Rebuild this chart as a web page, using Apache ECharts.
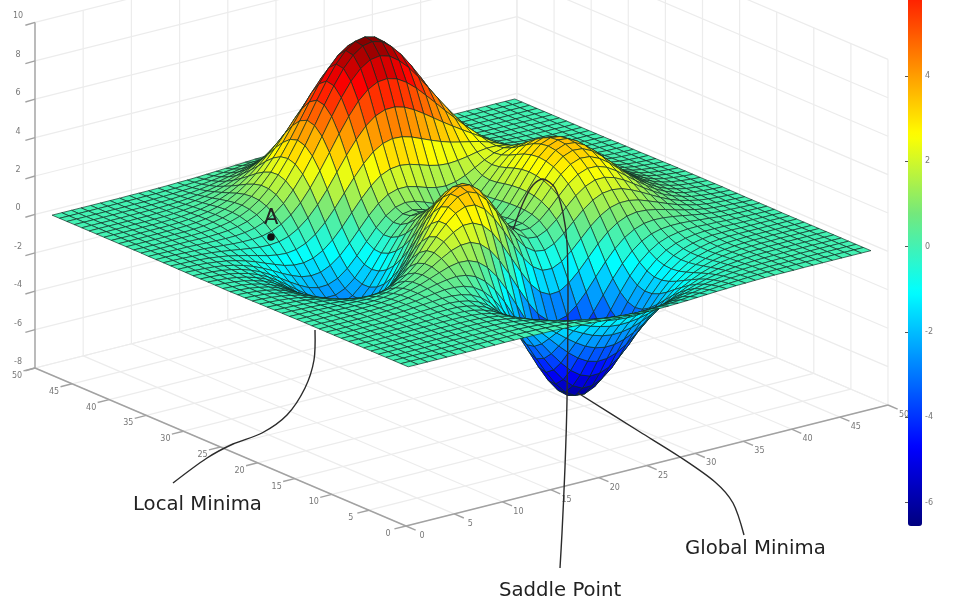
<!DOCTYPE html>
<html>
<head>
<meta charset="utf-8">
<style>
  html, body { margin: 0; background: #fff; }
  #chart { width: 960px; height: 600px; }
</style>
<script src="https://cdn.jsdelivr.net/npm/echarts@6/dist/echarts.min.js"></script>
</head>
<body>
<div id="chart"></div>
<script>
// surface heights estimated for each of the 49 x 49 mesh points, row = y index, column = x index
const zRows = [
  [0,0,0,0,0,0,0,0,0,0, .01,.01,0,0,-.01,-.01,-.03,-.05,-.08,-.11, -.14,-.17,-.2,-.23,-.25,-.25,-.25,-.24,-.22,-.2, -.17,-.14,-.11,-.09,-.06,-.05,-.03,-.02,-.01,-.01, -.01,0,0,0,0,0,0,0,0],
  [0,0,0,0,0,0,.01,.01,.01,.01, .01,.01,.01,0,-.01,-.03,-.06,-.09,-.13,-.19, -.24,-.3,-.35,-.39,-.42,-.44,-.43,-.41,-.38,-.34, -.29,-.24,-.19,-.14,-.11,-.08,-.05,-.03,-.02,-.01, -.01,0,0,0,0,0,0,0,0],
  [0,0,0,0,0,0,0,.01,.01,.01, .01,.01,0,0,-.02,-.05,-.1,-.15,-.22,-.3, -.39,-.48,-.56,-.63,-.68,-.7,-.69,-.66,-.61,-.54, -.46,-.38,-.3,-.23,-.17,-.12,-.09,-.06,-.04,-.02, -.02,-.01,-.01,0,0,0,0,0,0],
  [0,0,0,0,0,.01,.01,.01,.01,.01, .01,.01,0,-.01,-.04,-.09,-.15,-.24,-.35,-.48, -.61,-.75,-.87,-.98,-1.05,-1.09,-1.08,-1.03,-.94,-.84, -.71,-.58,-.46,-.35,-.26,-.18,-.12,-.08,-.05,-.03, -.02,-.01,-.01,0,0,0,0,0,0],
  [0,0,0,0,0,0,.01,.01,.01,.02, .02,.02,0,-.02,-.07,-.14,-.23,-.37,-.53,-.71, -.91,-1.12,-1.31,-1.46,-1.57,-1.62,-1.6,-1.53,-1.41,-1.24, -1.06,-.87,-.69,-.52,-.38,-.27,-.18,-.12,-.08,-.05, -.03,-.02,-.01,0,0,0,0,0,0],
  [0,0,0,0,.01,.01,.01,.02,.02,.02, .03,.02,.01,-.03,-.1,-.19,-.33,-.52,-.74,-1.01, -1.3,-1.59,-1.85,-2.08,-2.23,-2.3,-2.28,-2.18,-2,-1.77, -1.51,-1.24,-.98,-.74,-.54,-.38,-.26,-.17,-.11,-.06, -.03,-.02,-.01,-.01,0,0,0,0,0],
  [0,0,0,0,.01,.01,.02,.02,.03,.03, .03,.03,.01,-.04,-.12,-.25,-.44,-.69,-1,-1.35, -1.74,-2.14,-2.5,-2.81,-3.02,-3.12,-3.1,-2.96,-2.72,-2.41, -2.05,-1.68,-1.32,-1.01,-.74,-.52,-.35,-.22,-.14,-.08, -.04,-.03,-.01,-.01,0,0,0,0,0],
  [0,0,0,0,.01,.01,.02,.03,.04,.05, .05,.05,.02,-.03,-.14,-.29,-.53,-.84,-1.23,-1.7, -2.2,-2.71,-3.19,-3.59,-3.88,-4.02,-3.99,-3.82,-3.51,-3.1, -2.64,-2.16,-1.71,-1.29,-.94,-.66,-.44,-.28,-.17,-.1, -.05,-.03,-.01,-.01,0,0,0,0,0],
  [0,0,0,.01,.01,.01,.02,.03,.05,.06, .07,.07,.05,-.01,-.13,-.32,-.59,-.97,-1.44,-2.02, -2.64,-3.28,-3.88,-4.4,-4.76,-4.95,-4.93,-4.72,-4.35,-3.85, -3.27,-2.68,-2.1,-1.59,-1.15,-.8,-.53,-.34,-.2,-.12, -.06,-.03,-.01,-.01,0,0,0,0,0],
  [0,0,0,.01,.01,.01,.03,.04,.06,.08, .1,.11,.1,.04,-.08,-.27,-.57,-1,-1.54,-2.2, -2.93,-3.69,-4.41,-5.04,-5.49,-5.74,-5.73,-5.51,-5.09,-4.5, -3.83,-3.12,-2.45,-1.84,-1.32,-.91,-.59,-.37,-.22,-.12, -.06,-.03,-.01,0,0,0,0,0,0],
  [0,0,0,.01,.01,.01,.03,.05,.07,.1, .12,.15,.16,.12,.02,-.16,-.46,-.9,-1.48,-2.2, -3.01,-3.87,-4.7,-5.43,-5.98,-6.29,-6.33,-6.1,-5.64,-5, -4.24,-3.45,-2.69,-2,-1.42,-.96,-.61,-.37,-.21,-.1, -.04,-.01,0,0,0,0,0,0,0],
  [0,0,0,.01,.01,.01,.03,.05,.08,.12, .16,.2,.24,.24,.18,.04,-.22,-.63,-1.19,-1.92, -2.77,-3.69,-4.6,-5.42,-6.06,-6.45,-6.54,-6.35,-5.89,-5.22, -4.42,-3.58,-2.76,-2.03,-1.42,-.93,-.56,-.32,-.16,-.06, 0,.01,.02,.01,.01,.01,.01,0,0],
  [0,0,0,0,0,.01,.03,.05,.08,.13, .18,.26,.33,.39,.39,.33,.15,-.18,-.68,-1.36, -2.18,-3.12,-4.07,-4.96,-5.68,-6.15,-6.32,-6.18,-5.76,-5.11, -4.31,-3.46,-2.63,-1.89,-1.27,-.79,-.44,-.21,-.07,.01, .05,.05,.05,.03,.02,.02,.01,.01,0],
  [0,0,-.01,0,0,0,.01,.03,.06,.12, .19,.29,.41,.53,.62,.67,.61,.41,.04,-.53, -1.28,-2.17,-3.12,-4.05,-4.83,-5.39,-5.65,-5.6,-5.25,-4.65, -3.9,-3.09,-2.29,-1.57,-.98,-.54,-.22,-.03,.07,.12, .13,.1,.09,.06,.04,.03,.02,.01,.01],
  [0,-.01,-.01,-.01,-.02,-.02,-.01,0,.03,.08, .17,.29,.45,.64,.83,1.01,1.11,1.08,.88,.47, -.14,-.94,-1.85,-2.78,-3.61,-4.25,-4.6,-4.65,-4.41,-3.9, -3.22,-2.48,-1.74,-1.09,-.56,-.17,.08,.21,.26,.26, .23,.18,.14,.09,.06,.04,.03,.02,.01],
  [0,-.01,-.02,-.02,-.03,-.05,-.05,-.05,-.04,.01, .09,.23,.43,.68,.97,1.28,1.56,1.72,1.74,1.53, 1.09,.43,-.4,-1.3,-2.16,-2.87,-3.32,-3.48,-3.34,-2.93, -2.36,-1.7,-1.04,-.47,-.02,.28,.46,.52,.5,.44, .36,.27,.19,.13,.08,.06,.04,.02,.01],
  [-.01,-.02,-.02,-.04,-.06,-.08,-.1,-.12,-.13,-.11, -.04,.09,.31,.61,.98,1.42,1.86,2.22,2.46,2.46, 2.22,1.72,.99,.14,-.72,-1.48,-2.01,-2.27,-2.23,-1.91, -1.43,-.85,-.27,.22,.58,.8,.89,.86,.77,.64, .5,.37,.26,.17,.11,.07,.05,.02,.01],
  [-.01,-.02,-.04,-.06,-.09,-.13,-.17,-.22,-.26,-.27, -.24,-.14,.07,.39,.83,1.36,1.95,2.49,2.93,3.15, 3.11,2.77,2.15,1.37,.51,-.27,-.86,-1.18,-1.21,-.97, -.54,-.03,.49,.91,1.2,1.33,1.33,1.23,1.05,.86, .66,.48,.34,.22,.14,.09,.06,.03,.01],
  [-.01,-.03,-.05,-.08,-.12,-.18,-.25,-.34,-.42,-.49, -.51,-.45,-.28,.04,.49,1.09,1.79,2.48,3.09,3.49, 3.63,3.44,2.94,2.22,1.4,.61,0,-.35,-.42,-.2, .21,.7,1.18,1.56,1.79,1.85,1.78,1.59,1.35,1.08, .82,.59,.41,.28,.17,.11,.07,.04,.02],
  [-.02,-.04,-.07,-.1,-.16,-.24,-.34,-.47,-.61,-.73, -.82,-.83,-.72,-.44,0,.63,1.38,2.18,2.93,3.48, 3.76,3.7,3.31,2.66,1.88,1.11,.51,.16,.11,.34, .76,1.27,1.75,2.11,2.32,2.33,2.19,1.94,1.62,1.29, .98,.7,.49,.33,.2,.13,.08,.04,.02],
  [-.02,-.05,-.08,-.13,-.2,-.31,-.44,-.6,-.8,-.99, -1.16,-1.25,-1.21,-1,-.6,.02,.8,1.66,2.49,3.15, 3.55,3.61,3.3,2.73,2,1.27,.71,.4,.39,.67, 1.14,1.69,2.2,2.57,2.76,2.74,2.56,2.25,1.87,1.49, 1.13,.81,.56,.37,.23,.15,.09,.05,.03],
  [-.03,-.05,-.09,-.15,-.24,-.36,-.53,-.73,-.98,-1.24, -1.48,-1.66,-1.71,-1.58,-1.23,-.66,.12,1,1.89,2.63, 3.11,3.25,3.03,2.53,1.86,1.19,.68,.43,.48,.83, 1.37,1.97,2.53,2.93,3.12,3.08,2.86,2.51,2.08,1.65, 1.25,.9,.62,.41,.26,.16,.1,.05,.03],
  [-.03,-.06,-.1,-.17,-.27,-.41,-.6,-.84,-1.14,-1.46, -1.77,-2.03,-2.16,-2.11,-1.83,-1.31,-.57,.32,1.23,2.02, 2.56,2.77,2.62,2.19,1.59,.98,.53,.35,.47,.89, 1.5,2.16,2.76,3.18,3.37,3.33,3.09,2.7,2.24,1.78, 1.34,.96,.67,.44,.28,.17,.11,.06,.03],
  [-.03,-.06,-.11,-.18,-.29,-.45,-.66,-.92,-1.26,-1.63, -2,-2.32,-2.53,-2.55,-2.34,-1.88,-1.17,-.31,.61,1.41, 1.99,2.26,2.17,1.81,1.28,.74,.36,.24,.43,.9, 1.56,2.26,2.89,3.33,3.53,3.48,3.23,2.82,2.34,1.85, 1.4,1,.69,.46,.29,.18,.11,.06,.03],
  [-.04,-.07,-.11,-.19,-.3,-.47,-.69,-.97,-1.33,-1.73, -2.14,-2.51,-2.77,-2.86,-2.71,-2.31,-1.65,-.83,.07,.87, 1.48,1.78,1.75,1.45,.98,.51,.19,.14,.37,.89, 1.57,2.3,2.94,3.39,3.58,3.53,3.27,2.86,2.37,1.88, 1.41,1.02,.7,.47,.29,.18,.11,.06,.03],
  [-.04,-.07,-.11,-.19,-.31,-.47,-.69,-.98,-1.35,-1.76, -2.19,-2.59,-2.89,-3.02,-2.92,-2.58,-1.98,-1.21,-.35,.43, 1.03,1.36,1.37,1.12,.73,.32,.06,.05,.32,.85, 1.54,2.26,2.89,3.33,3.53,3.47,3.21,2.81,2.33,1.84, 1.39,1,.69,.46,.29,.18,.11,.06,.03],
  [-.03,-.06,-.11,-.18,-.3,-.45,-.67,-.96,-1.32,-1.72, -2.15,-2.56,-2.87,-3.03,-2.98,-2.68,-2.15,-1.44,-.64,.1, .68,1.01,1.05,.86,.53,.18,-.03,0,.28,.8, 1.47,2.16,2.77,3.18,3.36,3.31,3.06,2.68,2.22,1.75, 1.32,.95,.65,.44,.28,.17,.1,.06,.03],
  [-.03,-.06,-.1,-.17,-.28,-.43,-.63,-.9,-1.24,-1.62, -2.04,-2.42,-2.74,-2.9,-2.88,-2.63,-2.16,-1.52,-.79,-.1, .44,.77,.84,.69,.41,.13,-.04,0,.28,.76, 1.38,2.02,2.58,2.96,3.12,3.07,2.83,2.48,2.05,1.62, 1.22,.88,.6,.4,.25,.16,.1,.05,.03],
  [-.03,-.05,-.09,-.15,-.25,-.38,-.57,-.81,-1.12,-1.47, -1.85,-2.2,-2.49,-2.65,-2.64,-2.42,-2,-1.42,-.76,-.13, .39,.71,.79,.69,.47,.23,.09,.13,.38,.8, 1.34,1.9,2.38,2.7,2.84,2.78,2.56,2.23,1.84,1.46, 1.09,.79,.54,.36,.23,.14,.09,.05,.02],
  [-.03,-.05,-.08,-.13,-.22,-.33,-.5,-.71,-.98,-1.28, -1.61,-1.91,-2.16,-2.29,-2.26,-2.06,-1.67,-1.13,-.52,.08, .57,.89,1.01,.95,.78,.58,.46,.47,.65,.99, 1.41,1.85,2.23,2.47,2.55,2.48,2.27,1.97,1.62,1.28, .96,.69,.47,.31,.2,.12,.07,.04,.02],
  [-.02,-.04,-.07,-.11,-.18,-.28,-.42,-.59,-.81,-1.06, -1.33,-1.57,-1.76,-1.84,-1.78,-1.55,-1.17,-.64,-.05,.54, 1.04,1.39,1.55,1.55,1.42,1.25,1.12,1.08,1.17,1.37, 1.65,1.93,2.17,2.31,2.32,2.21,1.99,1.71,1.4,1.1, .82,.59,.4,.27,.17,.1,.06,.03,.02],
  [-.02,-.03,-.05,-.09,-.15,-.22,-.33,-.47,-.64,-.84, -1.03,-1.21,-1.32,-1.33,-1.21,-.94,-.52,.03,.65,1.26, 1.8,2.21,2.43,2.49,2.42,2.27,2.11,1.99,1.95,1.99, 2.07,2.18,2.25,2.25,2.16,1.99,1.76,1.49,1.2,.93, .69,.49,.34,.22,.14,.09,.05,.03,.01],
  [-.01,-.03,-.04,-.07,-.11,-.17,-.25,-.36,-.48,-.61, -.74,-.83,-.87,-.8,-.6,-.26,.23,.83,1.51,2.18, 2.79,3.28,3.59,3.72,3.69,3.55,3.34,3.13,2.94,2.78, 2.66,2.55,2.44,2.28,2.09,1.85,1.58,1.3,1.04,.79, .58,.41,.28,.18,.11,.07,.04,.02,.01],
  [-.01,-.02,-.03,-.06,-.08,-.12,-.18,-.25,-.33,-.4, -.46,-.48,-.43,-.28,.01,.43,.99,1.67,2.43,3.19, 3.88,4.46,4.86,5.06,5.08,4.94,4.68,4.36,4.01,3.66, 3.33,3.01,2.7,2.39,2.07,1.76,1.45,1.16,.9,.67, .48,.34,.23,.15,.09,.06,.03,.02,.01],
  [-.01,-.01,-.02,-.04,-.06,-.08,-.12,-.16,-.2,-.22, -.22,-.18,-.05,.19,.55,1.05,1.7,2.46,3.29,4.14, 4.92,5.59,6.07,6.34,6.39,6.25,5.94,5.52,5.02,4.5, 3.97,3.46,2.97,2.51,2.09,1.7,1.35,1.05,.79,.58, .41,.28,.18,.12,.07,.04,.03,.01,.01],
  [-.01,-.01,-.02,-.03,-.03,-.05,-.07,-.08,-.09,-.08, -.03,.07,.26,.56,.98,1.55,2.25,3.07,3.97,4.88, 5.73,6.46,7,7.33,7.41,7.27,6.91,6.42,5.81,5.14, 4.46,3.8,3.18,2.6,2.1,1.65,1.27,.95,.7,.5, .34,.23,.15,.1,.06,.03,.02,.01,0],
  [0,-.01,-.01,-.01,-.02,-.02,-.03,-.03,-.01,.03, .11,.25,.48,.81,1.28,1.87,2.61,3.45,4.37,5.31, 6.19,6.96,7.53,7.89,7.99,7.85,7.47,6.93,6.25,5.5, 4.72,3.96,3.25,2.61,2.06,1.58,1.18,.87,.62,.44, .29,.19,.12,.08,.05,.03,.02,.01,0],
  [0,-.01,-.01,-.01,-.01,0,-.01,.01,.04,.1, .2,.36,.6,.95,1.42,2.02,2.74,3.57,4.48,5.4, 6.27,7.03,7.61,7.97,8.07,7.94,7.56,7.01,6.31,5.53, 4.72,3.92,3.18,2.52,1.95,1.47,1.08,.78,.55,.37, .24,.16,.1,.06,.04,.02,.01,.01,0],
  [0,0,0,0,0,.01,.01,.03,.07,.14, .24,.4,.65,.98,1.43,1.99,2.67,3.45,4.29,5.15, 5.96,6.67,7.22,7.57,7.67,7.55,7.2,6.66,5.99,5.24, 4.45,3.68,2.96,2.32,1.78,1.32,.96,.68,.47,.32, .21,.13,.08,.05,.03,.02,.01,0,0],
  [0,0,0,0,0,.01,.02,.04,.08,.15, .25,.4,.62,.93,1.33,1.83,2.44,3.12,3.87,4.63, 5.35,5.98,6.46,6.78,6.88,6.77,6.45,5.97,5.37,4.68, 3.97,3.27,2.62,2.04,1.55,1.14,.82,.57,.39,.26, .17,.11,.06,.04,.02,.01,.01,0,0],
  [0,0,0,0,.01,.01,.02,.04,.08,.14, .23,.36,.55,.82,1.16,1.59,2.1,2.68,3.31,3.95, 4.56,5.09,5.51,5.77,5.86,5.77,5.5,5.09,4.57,3.98, 3.37,2.77,2.21,1.72,1.3,.95,.67,.47,.32,.21, .13,.08,.05,.03,.02,.01,.01,0,0],
  [0,0,0,0,.01,.01,.02,.04,.07,.12, .19,.3,.46,.67,.95,1.29,1.7,2.17,2.67,3.18, 3.67,4.1,4.43,4.65,4.72,4.65,4.43,4.1,3.68,3.2, 2.71,2.22,1.77,1.36,1.03,.75,.53,.37,.25,.16, .1,.06,.03,.02,.01,.01,0,0,0],
  [0,0,0,0,.01,.01,.02,.03,.06,.1, .16,.24,.36,.53,.74,1.01,1.32,1.68,2.07,2.46, 2.84,3.17,3.43,3.6,3.65,3.59,3.42,3.17,2.84,2.48, 2.09,1.71,1.36,1.05,.79,.57,.4,.27,.19,.12, .07,.05,.03,.02,.01,.01,0,0,0],
  [0,0,0,0,0,.01,.01,.03,.05,.08, .12,.19,.28,.4,.56,.75,.98,1.25,1.53,1.81, 2.09,2.33,2.52,2.64,2.68,2.64,2.52,2.33,2.09,1.82, 1.54,1.26,1,.77,.57,.41,.29,.2,.13,.08, .05,.03,.02,.01,.01,0,0,0,0],
  [0,0,0,0,0,.01,.01,.02,.03,.05, .08,.13,.19,.28,.39,.53,.69,.87,1.07,1.27, 1.47,1.64,1.77,1.86,1.89,1.86,1.77,1.64,1.47,1.28, 1.08,.88,.7,.54,.4,.29,.2,.14,.09,.06, .04,.02,.01,.01,0,0,0,0,0],
  [0,0,0,0,0,.01,.01,.01,.02,.04, .06,.09,.13,.19,.27,.36,.47,.59,.72,.86, .99,1.1,1.19,1.25,1.27,1.25,1.19,1.1,.99,.86, .72,.59,.47,.36,.27,.19,.13,.09,.06,.04, .02,.01,.01,0,0,0,0,0,0],
  [0,0,0,0,0,0,0,.01,.01,.02, .04,.06,.09,.12,.17,.23,.3,.38,.46,.55, .64,.71,.77,.8,.82,.8,.77,.71,.64,.55, .47,.38,.3,.23,.17,.12,.09,.06,.04,.02, .01,.01,0,0,0,0,0,0,0],
  [0,0,0,0,0,0,0,.01,.01,.02, .02,.04,.05,.08,.11,.14,.19,.24,.29,.35, .4,.44,.48,.5,.51,.5,.48,.44,.4,.35, .29,.24,.19,.14,.11,.08,.05,.04,.02,.02, .01,0,0,0,0,0,0,0,0],
  [0,0,0,0,0,0,0,0,.01,.01, .01,.02,.03,.05,.06,.08,.11,.14,.17,.2, .23,.26,.28,.29,.3,.29,.28,.26,.23,.2, .17,.14,.11,.08,.06,.05,.03,.02,.01,.01, .01,0,0,0,0,0,0,0,0]
]

const xyTicks = [0,5,10,15,20,25,30,35,40,45,50]
const zTicks = [-8,-6,-4,-2,0,2,4,6,8,10]
const colorTicks = [-6,-4,-2,0,2,4]
const jet = ['#00007f','#0000ff','#007fff','#00ffff','#74e87c','#ffff00','#ff7f00','#ff0000','#7f0000']

// the box is orthographic: floor is a parallelogram, z stays vertical
function project (u, v, z) {
  return [406 + 9.64 * u - 7.42 * v, 526 - 2.42 * u - 3.16 * v - 19.2 * (z + 8)]
}

// back to front, so nearer cells paint over farther ones
const cells = []
for (let j = zRows.length - 2; j >= 0; j--) {
  for (let i = zRows[j].length - 2; i >= 0; i--) {
    cells.push([i, j, (zRows[j][i] + zRows[j][i + 1] + zRows[j + 1][i] + zRows[j + 1][i + 1]) / 4])
  }
}

const gridSegs = []
xyTicks.forEach(t => {
  gridSegs.push([t, 0, -8, t, 50, -8])
  gridSegs.push([0, t, -8, 50, t, -8])
  gridSegs.push([t, 50, -8, t, 50, 10])
  gridSegs.push([50, t, -8, 50, t, 10])
})
zTicks.forEach(t => {
  gridSegs.push([0, 50, t, 50, 50, t])
  gridSegs.push([50, 0, t, 50, 50, t])
})

const axisSegs = [
  [0, 0, -8, 50, 0, -8],
  [0, 0, -8, 0, 50, -8],
  [0, 50, -8, 0, 50, 10]
]
xyTicks.forEach(t => {
  axisSegs.push([t, 0, -8, t, -1.3, -8])
  axisSegs.push([0, t, -8, -1.2, t, -8])
})
zTicks.forEach(t => {
  axisSegs.push([0, 50, t, -1, 50, t - 0.02])
})

const labels = []
xyTicks.forEach(t => {
  labels.push({ pos: [t, 0, -8], dx: 16, dy: 10, text: String(t) })
  labels.push({ pos: [0, t, -8], dx: -18, dy: 8, text: String(t) })
})
zTicks.forEach(t => {
  labels.push({ pos: [0, 50, t], dx: -17, dy: -6, text: String(t) })
})

function segSeries (data, stroke, lineWidth) {
  return {
    type: 'custom',
    silent: true,
    coordinateSystem: 'cartesian2d',
    data,
    renderItem (params, api) {
      const a = api.coord(project(api.value(0), api.value(1), api.value(2)))
      const b = api.coord(project(api.value(3), api.value(4), api.value(5)))
      return {
        type: 'line',
        shape: { x1: a[0], y1: a[1], x2: b[0], y2: b[1] },
        style: { stroke, lineWidth }
      }
    }
  }
}

function leader (points) {
  return {
    type: 'polyline',
    z: 100,
    silent: true,
    shape: { points, smooth: 0.3 },
    style: { stroke: '#2b2b2b', lineWidth: 1.4, fill: null }
  }
}

function note (text, x, y, fontSize) {
  return {
    type: 'text',
    z: 100,
    silent: true,
    x,
    y,
    style: { text, fontFamily: 'DejaVu Sans', fontSize, fill: '#222', verticalAlign: 'middle' }
  }
}

const chart = echarts.init(document.getElementById('chart'))

chart.setOption({
  animation: false,
  backgroundColor: '#fff',
  grid: [
    { left: 0, right: 0, top: 0, bottom: 0, outerBoundsMode: 'none' },
    { left: 908, width: 14, top: -99, height: 625, outerBoundsMode: 'none' }
  ],
  xAxis: [
    { type: 'value', min: 0, max: 960, show: false, gridIndex: 0 },
    { type: 'value', min: 0, max: 1, show: false, gridIndex: 1 }
  ],
  yAxis: [
    { type: 'value', min: 0, max: 600, inverse: true, show: false, gridIndex: 0 },
    {
      type: 'value',
      gridIndex: 1,
      position: 'right',
      min: -6.55,
      max: 8.1,
      axisLine: { show: false },
      splitLine: { show: false },
      axisTick: { customValues: colorTicks, inside: true, length: 3, lineStyle: { color: '#555' } },
      axisLabel: { customValues: colorTicks, color: '#777', fontSize: 8, margin: 3, fontFamily: 'DejaVu Sans' }
    }
  ],
  visualMap: {
    type: 'continuous',
    seriesIndex: 3,
    dimension: 2,
    min: -6.55,
    max: 8.1,
    left: 908,
    top: -99,
    itemWidth: 14,
    itemHeight: 625,
    padding: 0,
    calculable: false,
    realtime: false,
    text: null,
    showLabel: false,
    inRange: { color: jet }
  },
  series: [
    segSeries(gridSegs, '#ececec', 1.2),
    segSeries(axisSegs, '#a2a2a2', 1.4),
    {
      type: 'custom',
      silent: true,
      coordinateSystem: 'cartesian2d',
      data: labels.map((l, idx) => [idx]),
      renderItem (params, api) {
        const l = labels[api.value(0)]
        const p = api.coord(project(l.pos[0], l.pos[1], l.pos[2]))
        return {
          type: 'text',
          x: p[0] + l.dx,
          y: p[1] + l.dy,
          style: { text: l.text, fill: '#777', fontSize: 8, fontFamily: 'DejaVu Sans', align: 'center', verticalAlign: 'middle' }
        }
      }
    },
    {
      type: 'custom',
      silent: true,
      progressive: 0,
      coordinateSystem: 'cartesian2d',
      data: cells,
      renderItem (params, api) {
        const i = api.value(0)
        const j = api.value(1)
        const corners = [[i, j], [i + 1, j], [i + 1, j + 1], [i, j + 1]]
        // mesh lines sit at axis positions 1..49
        const points = corners.map(c => api.coord(project(c[0] + 1, c[1] + 1, zRows[c[1]][c[0]])))
        return {
          type: 'polygon',
          shape: { points },
          style: { fill: api.visual('color'), stroke: 'rgba(15,45,35,0.68)', lineWidth: 1 }
        }
      }
    }
  ],
  graphic: [
    leader([[315, 330], [314, 360], [305, 388], [287, 415], [262, 433], [233, 444], [207, 458], [173, 483]]),
    leader([[513, 230], [523, 203], [533, 185], [543, 179], [555, 188], [563, 213], [567, 243], [568, 297], [567, 400], [565, 467], [562, 533], [560, 568]]),
    leader([[578, 393], [640, 432], [680, 457], [715, 482], [733, 503], [744, 535]]),
    { type: 'circle', z: 100, silent: true, shape: { cx: 271, cy: 237, r: 3.8 }, style: { fill: '#111' } },
    note('A', 264, 219, 21),
    note('Local Minima', 133, 505, 19.7),
    note('Global Minima', 685, 549, 19.7),
    note('Saddle Point', 499, 591, 19.7)
  ]
})
</script>
</body>
</html>
